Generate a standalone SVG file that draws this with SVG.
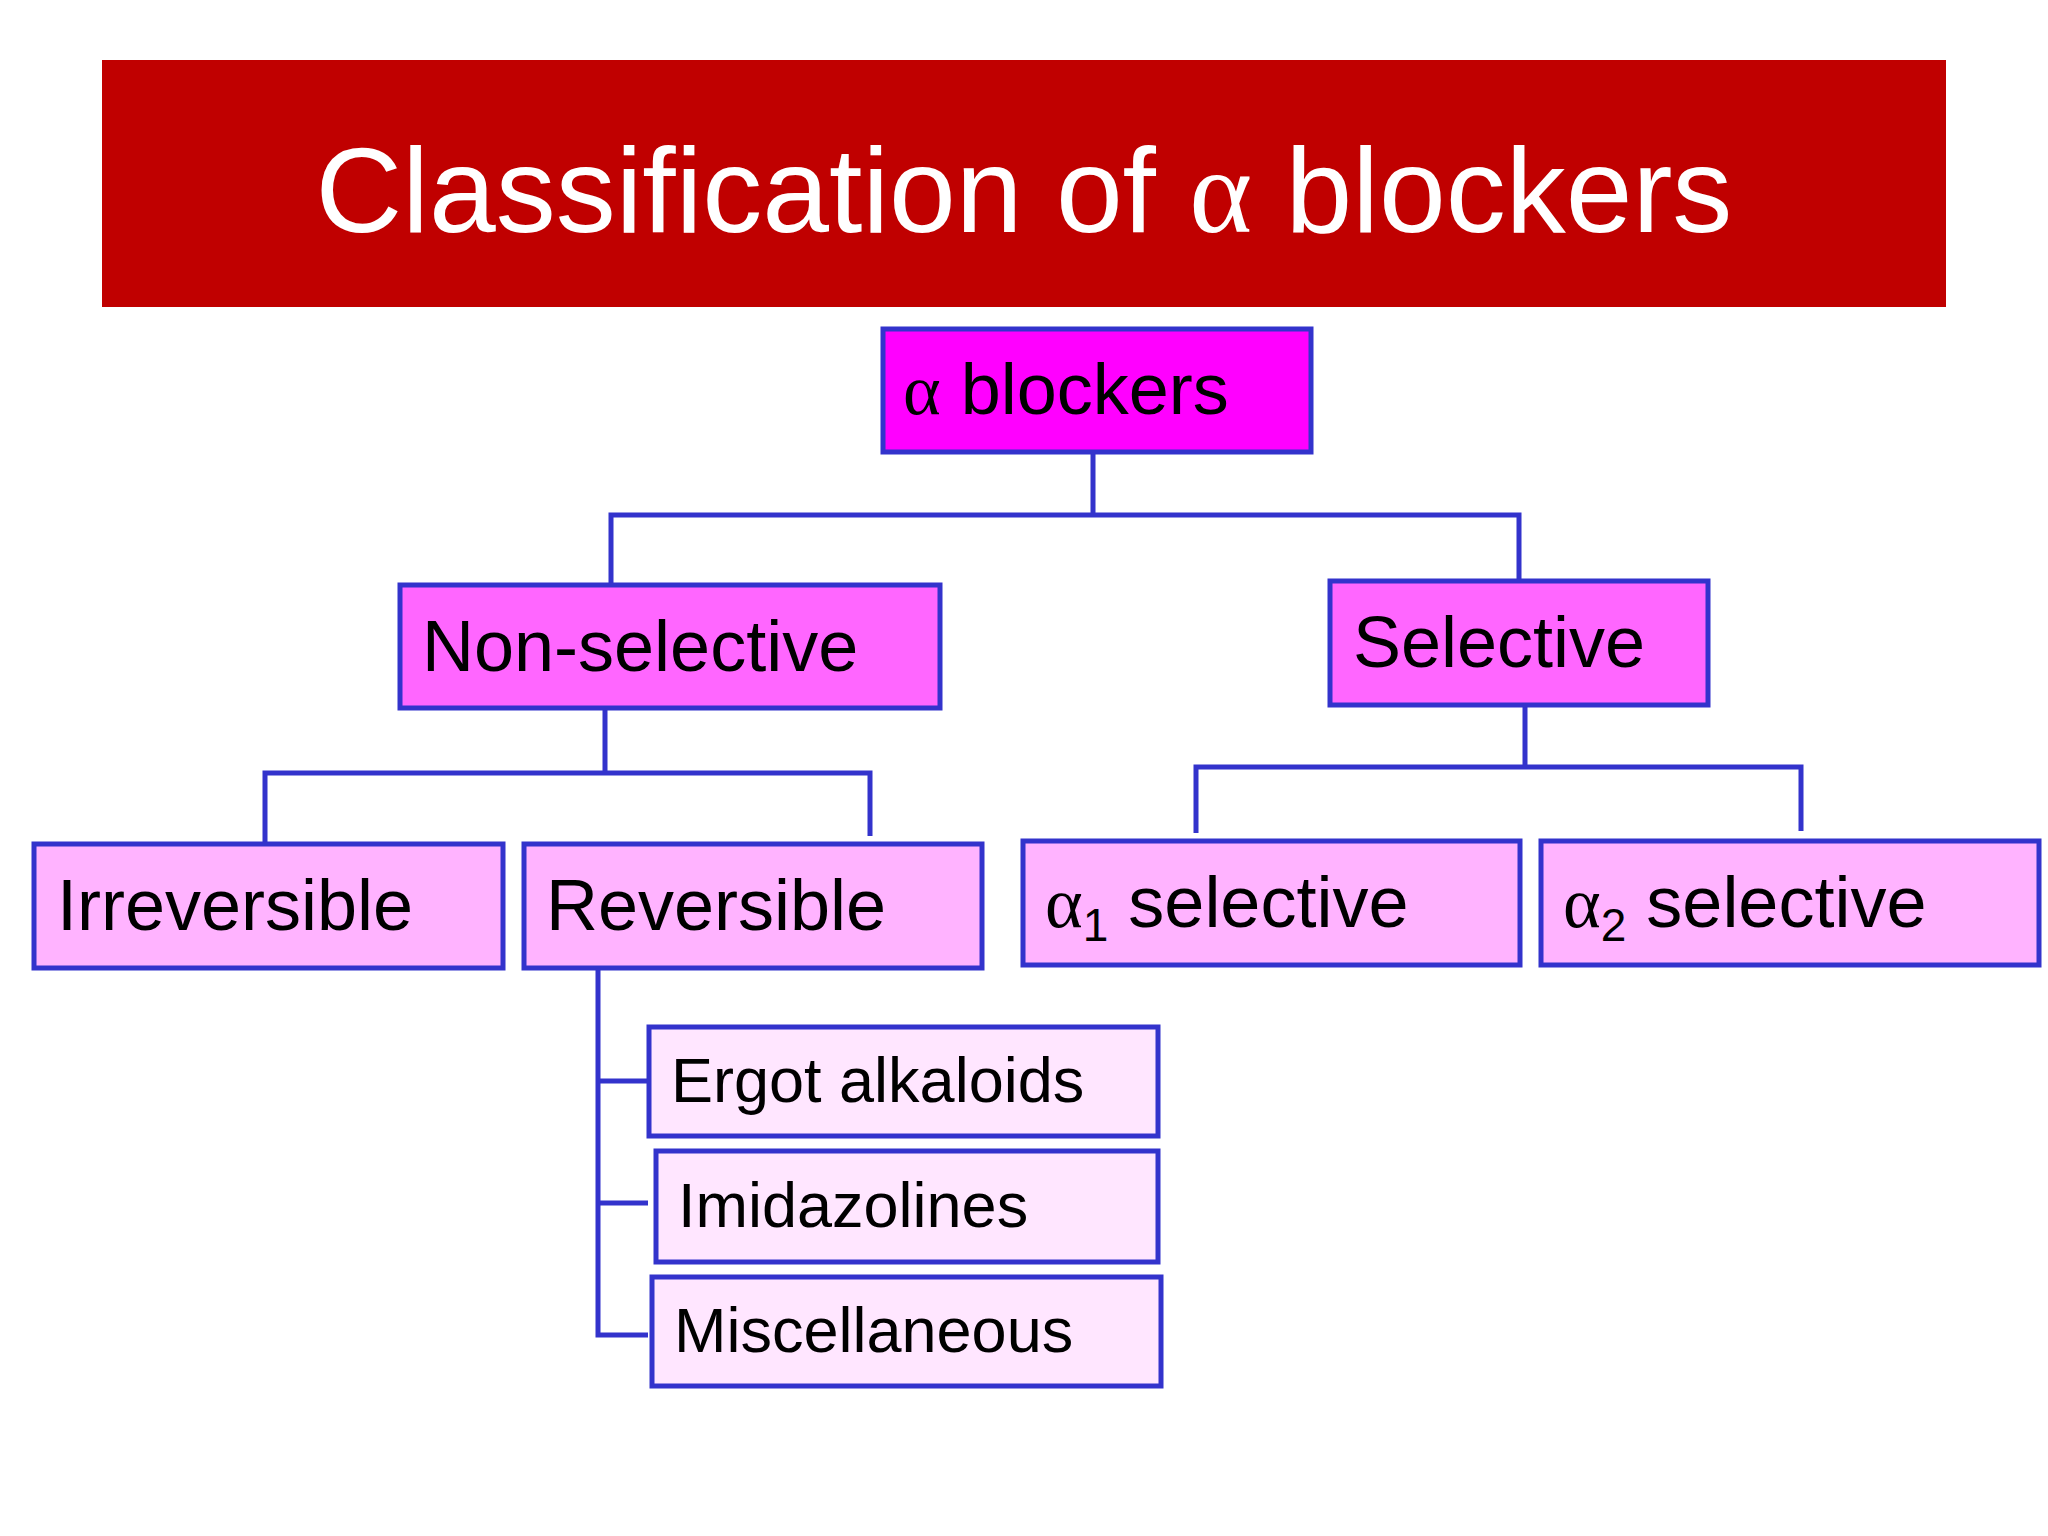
<svg xmlns="http://www.w3.org/2000/svg" width="2048" height="1536" viewBox="0 0 2048 1536">
<style>
.b{stroke:#3333CC;stroke-width:5}
.t{font-family:"Liberation Sans",Arial,sans-serif;fill:#000}
.a{font-family:"Liberation Serif",serif}
.c{fill:none;stroke:#3333CC;stroke-width:5}
</style>
<rect width="2048" height="1536" fill="#fff"/>
<g id="title"><rect x="102" y="60" width="1844" height="247" fill="#C00000"/>
<text x="1024" y="232" text-anchor="middle" class="t" font-size="120" fill="#fff" style="fill:#fff">Classification of <tspan class="a">α</tspan> blockers</text></g>
<g id="connectors" class="c">
<path d="M1093 452V515M611 585V515H1519V580"/>
<path d="M605 708V773M265 842V773H870V836"/>
<path d="M1525 705V767M1196 833V767H1801V831"/>
<path d="M598 968V1335H648M598 1081H648M598 1203H648"/>
</g>
<g id="root"><rect class="b" x="883" y="329" width="428" height="123" fill="#FF00FF"/><text class="t" x="903" y="414" font-size="72"><tspan class="a">α</tspan> blockers</text></g>
<g id="nonselective"><rect class="b" x="400" y="585" width="540" height="123" fill="#FF66FF"/><text class="t" x="422" y="671" font-size="72">Non-selective</text></g>
<g id="selective"><rect class="b" x="1330" y="581" width="378" height="124" fill="#FF66FF"/><text class="t" x="1353" y="667" font-size="72">Selective</text></g>
<g id="irreversible"><rect class="b" x="34" y="844" width="469" height="124" fill="#FFB3FF"/><text class="t" x="57" y="930" font-size="72">Irreversible</text></g>
<g id="reversible"><rect class="b" x="524" y="844" width="458" height="124" fill="#FFB3FF"/><text class="t" x="546" y="930" font-size="72">Reversible</text></g>
<g id="a1"><rect class="b" x="1023" y="841" width="497" height="124" fill="#FFB3FF"/><text class="t" x="1045" y="927" font-size="72"><tspan class="a">α</tspan><tspan font-size="46" dy="14">1</tspan><tspan dy="-14"> selective</tspan></text></g>
<g id="a2"><rect class="b" x="1541" y="841" width="498" height="124" fill="#FFB3FF"/><text class="t" x="1563" y="927" font-size="72"><tspan class="a">α</tspan><tspan font-size="46" dy="14">2</tspan><tspan dy="-14"> selective</tspan></text></g>
<g id="ergot"><rect class="b" x="649" y="1027" width="509" height="109" fill="#FFE6FF"/><text class="t" x="671" y="1102" font-size="63">Ergot alkaloids</text></g>
<g id="imid"><rect class="b" x="656" y="1151" width="502" height="111" fill="#FFE6FF"/><text class="t" x="678" y="1227" font-size="63">Imidazolines</text></g>
<g id="misc"><rect class="b" x="652" y="1277" width="509" height="109" fill="#FFE6FF"/><text class="t" x="674" y="1352" font-size="63">Miscellaneous</text></g>
</svg>
